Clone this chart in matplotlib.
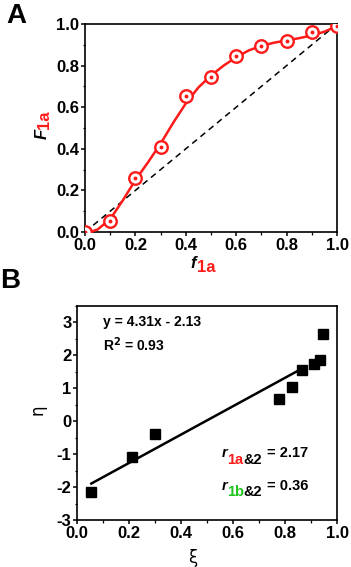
import numpy as np
import matplotlib
matplotlib.use('Agg')
import matplotlib.pyplot as plt
from matplotlib.ticker import MultipleLocator

# Panel A data / composition
f1a_pts = [0.0, 0.1, 0.2, 0.3, 0.4, 0.5, 0.6, 0.7, 0.8, 0.9, 1.0]
F1a_pts = [0.0, 0.055, 0.26, 0.41, 0.655, 0.745, 0.845, 0.895, 0.92, 0.96, 0.99]
# fitted curve
f1a_curve = [0.02, 0.05, 0.1, 0.15, 0.2, 0.25, 0.3, 0.35, 0.4, 0.45, 0.5,
             0.55, 0.6, 0.65, 0.7, 0.75, 0.8, 0.85, 0.9, 0.95, 1.0]
F1a_curve = [0.0, 0.012, 0.062, 0.152, 0.25, 0.335, 0.425, 0.525, 0.618, 0.695, 0.752,
             0.80, 0.84, 0.873, 0.895, 0.91, 0.921, 0.932, 0.945, 0.963, 0.99]
diag = [0.0, 1.0]

# Panel B data
xi = [0.055, 0.21, 0.30, 0.775, 0.825, 0.865, 0.91, 0.935, 0.945]
eta = [-2.15, -1.08, -0.40, 0.67, 1.03, 1.55, 1.75, 1.85, 2.65]
slope, intercept, r2 = 4.31, -2.13, 0.93
fit_x = [0.055, 0.865]
r_1a, r_1b = 2.17, 0.36

RED = '#ff1a1a'
GREEN = '#1fc41f'
W, H = 351, 567

plt.rcParams['font.family'] = ['Liberation Sans', 'DejaVu Sans']
plt.rcParams['font.weight'] = 'bold'

fig = plt.figure(figsize=(W / 100, H / 100), dpi=100)


def px_axes(l, t, r, b):
    return fig.add_axes([l / W, 1 - b / H, (r - l) / W, (b - t) / H])


def style(ax):
    for s in ax.spines.values():
        s.set_linewidth(1.2)
    ax.tick_params(which='major', direction='out', length=3, width=1.1, pad=1,
                   labelsize=12)
    ax.tick_params(which='minor', direction='out', length=1.8, width=0.9)
    for lab in ax.get_xticklabels() + ax.get_yticklabels():
        lab.set_fontweight('bold')


def ftext(x, y, s, **kw):
    kw.setdefault('ha', 'center')
    kw.setdefault('va', 'center')
    return fig.text(x / W, 1 - y / H, s, **kw)


# ---------- Panel A ----------
axA = px_axes(85, 24, 337, 232)
axA.plot(diag, diag, ls=(0, (4, 3)), color='black', lw=1.1, zorder=2)
axA.plot(f1a_curve, F1a_curve, color=RED, lw=1.8, zorder=3)
axA.plot(f1a_pts, F1a_pts, ls='none', marker='o', ms=9, mfc='white', mec=RED,
         mew=1.7, zorder=4)
axA.plot(f1a_pts, F1a_pts, ls='none', marker='o', ms=1.8, color=RED, zorder=5)
axA.set_xlim(0, 1)
axA.set_ylim(0, 1)
axA.xaxis.set_major_locator(MultipleLocator(0.2))
axA.yaxis.set_major_locator(MultipleLocator(0.2))
axA.xaxis.set_minor_locator(MultipleLocator(0.1))
axA.yaxis.set_minor_locator(MultipleLocator(0.1))
axA.set_xticklabels([f'{v:.1f}' for v in axA.get_xticks()])
axA.set_yticklabels([f'{v:.1f}' for v in axA.get_yticks()])
style(axA)

# axis labels built from pieces
ftext(193, 264, 'f', fontsize=12, style='italic', fontweight='bold', color='black')
ftext(206, 268, '1a', fontsize=12, fontweight='bold', color=RED)
ftext(42, 134, 'F', fontsize=12, style='italic', fontweight='bold', color='black',
      rotation=90)
ftext(45, 120, '1a', fontsize=12, fontweight='bold', color=RED, rotation=90)

ftext(16, 16, 'A', fontsize=20, fontweight='bold')

# ---------- Panel B ----------
axB = px_axes(77, 306, 337, 520)
axB.plot(xi, eta, ls='none', marker='s', ms=7.5, color='black', zorder=4)
fx = np.array(fit_x)
axB.plot(fx, slope * fx + intercept, color='black', lw=1.8, zorder=3)
axB.set_xlim(0, 1)
axB.set_ylim(-3, 3.5)
axB.xaxis.set_major_locator(MultipleLocator(0.2))
axB.xaxis.set_minor_locator(MultipleLocator(0.1))
axB.yaxis.set_major_locator(MultipleLocator(1))
axB.yaxis.set_minor_locator(MultipleLocator(0.5))
axB.set_xticklabels([f'{v:.1f}' for v in axB.get_xticks()])
axB.set_yticklabels([f'{v:.0f}' for v in axB.get_yticks()])
style(axB)
ftext(193, 558, 'ξ', fontsize=12, fontweight='normal', family=['DejaVu Sans'])
ftext(38, 410, 'η', fontsize=12, fontweight='normal', family=['DejaVu Sans'],
      rotation=90)

axB.text(0.1, 3.0, f'y = {slope:.2f}x - {-intercept:.2f}', fontsize=10,
         fontweight='bold', va='center', ha='left')
axB.text(0.1, 2.33, 'R$^{\\mathbf{2}}$ = ' + f'{r2:.2f}', fontsize=10,
         fontweight='bold', va='center', ha='left')

# r labels in pixel positions
ftext(224.5, 453, 'r', fontsize=10.5, style='italic', fontweight='bold')
ftext(235.5, 459.5, '1a', fontsize=10.5, fontweight='bold', color=RED)
ftext(253, 459.5, '&2', fontsize=10.5, fontweight='bold')
ftext(267, 453, f'= {r_1a:.2f}', fontsize=10.5, fontweight='bold', ha='left')
ftext(224.5, 486, 'r', fontsize=10.5, style='italic', fontweight='bold')
ftext(235.5, 492, '1b', fontsize=10.5, fontweight='bold', color=GREEN)
ftext(253, 492, '&2', fontsize=10.5, fontweight='bold')
ftext(267, 486, f'= {r_1b:.2f}', fontsize=10.5, fontweight='bold', ha='left')

ftext(10, 281, 'B', fontsize=20, fontweight='bold')

fig.savefig('out.png', dpi=100)
